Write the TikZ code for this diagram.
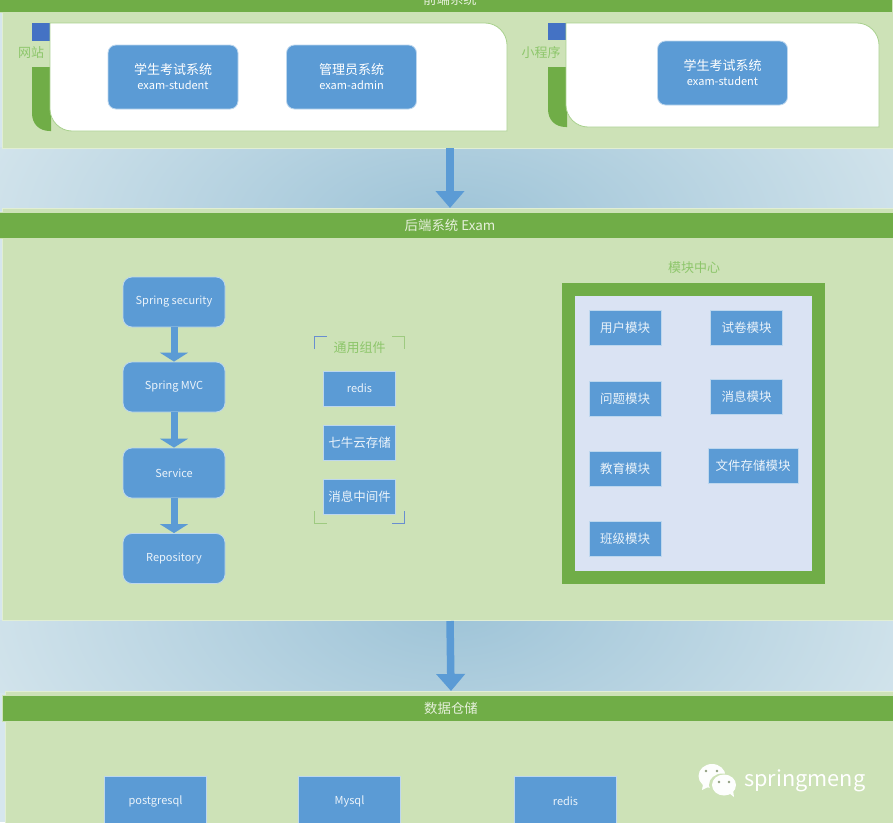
\documentclass[tikz,border=0pt]{standalone}
\usepackage{fontspec}
\setmainfont{Noto Sans CJK SC}
\usetikzlibrary{arrows.meta}
\definecolor{barg}{HTML}{70AD47}
\definecolor{panelg}{HTML}{CDE2B7}
\definecolor{lineg}{HTML}{A9D18E}
\definecolor{textg}{HTML}{8DC66B}
\definecolor{boxb}{HTML}{5B9BD5}
\definecolor{boxl}{HTML}{BDD7EE}
\definecolor{squareb}{HTML}{4472C4}
\definecolor{bandl}{HTML}{D6E6ED}
\definecolor{bandm}{HTML}{9DC3D7}
\definecolor{inner}{HTML}{DAE3F3}
\tikzset{
  x=1pt,y=-1pt,
  panel/.style={fill=panelg,draw=panelg!60!white,line width=.4pt,anchor=north west,inner sep=0pt,outer sep=0pt},
  bar/.style={fill=barg,draw=panelg,line width=.5pt,anchor=north west,inner sep=0pt,outer sep=0pt,minimum width=893pt},
  bartext/.style={text=panelg!50!white,font=\fontsize{13.4}{16}\selectfont,inner sep=0pt},
  appbox/.style={fill=boxb,draw=boxl,line width=.8pt,rounded corners=8pt,minimum width=130pt,minimum height=64pt,text=white,align=center,inner sep=0pt},
  flowbox/.style={fill=boxb,draw=boxl,line width=.8pt,rounded corners=9pt,minimum width=102pt,minimum height=50pt,text=white!88!boxb,font=\fontsize{11}{13}\selectfont,inner sep=0pt},
  modbox/.style={fill=boxb,draw=boxl,line width=.6pt,minimum width=72pt,minimum height=35pt,text=white!88!boxb,font=\fontsize{12.5}{15}\selectfont,inner sep=0pt},
  databox/.style={fill=boxb,draw=boxl,line width=.6pt,minimum width=102pt,minimum height=50pt,text=white!88!boxb,font=\fontsize{11}{13}\selectfont,inner sep=0pt},
  grouptitle/.style={text=textg,font=\fontsize{13}{16}\selectfont,inner sep=0pt},
  blockarrow/.style={draw=boxb,line width=7.5pt,-{Triangle[length=17pt,width=28pt]}},
  smallarrow/.style={draw=boxb,line width=7pt,-{Triangle[length=9pt,width=28pt]}},
  whitecard/.style={fill=white,draw=lineg,line width=.8pt},
  bracketb/.style={draw=squareb!80!white,line width=1.2pt},
  bracketg/.style={draw=lineg!80!barg,line width=1.2pt},
}
\newcommand{\applabel}[2]{{\fontsize{13}{16}\selectfont #1}\\[3pt]{\fontsize{11}{13}\selectfont #2}}
\begin{document}
\begin{tikzpicture}
\useasboundingbox (0,0) rectangle (893,822);
\clip (0,0) rectangle (893,822);
\fill[bandl] (0,0) rectangle (893,822);
% bands
\begin{scope}
\clip (0,147) rectangle (893,210);
\shade[inner color=bandm,outer color=bandl] (450,225) ellipse (520 and 260);
\end{scope}
\begin{scope}
\clip (0,620) rectangle (893,692);
\shade[inner color=bandm,outer color=bandl] (450,605) ellipse (520 and 280);
\end{scope}
% panels
\node[panel,minimum width=892pt,minimum height=136pt] (panelA) at (2.5,12) {};
\node[panel,minimum width=892pt,minimum height=412pt] (panelB) at (2.5,208.5) {};
\node[panel,minimum width=889pt,minimum height=133pt] (panelC) at (5.5,691.5) {};
% bars
\node[bar,minimum height=13pt] (barA) at (-1,-1) {};
\node[bar,minimum height=26pt,minimum width=896pt] (barB) at (-1,212) {};
\node[bar,minimum width=893pt,minimum height=25.5pt] (barC) at (2,695.5) {};
\node[bartext] (tA) at (450,-1) {前端系统};
\node[bartext] (tB) at (450,225.5) {后端系统 Exam};
\node[bartext] (tC) at (451,708.5) {数据仓储};
% website card
\fill[squareb] (32,23) rectangle (50,41);
\fill[barg] (32,67) -- (51,67) -- (51,131) -- (50,131) .. controls (39,131) and (32,124) .. (32,113) -- cycle;
\draw[whitecard] (50,23) -- (485,23) .. controls (497,23) and (507,33) .. (507,45) -- (507,131) -- (72,131) .. controls (60,131) and (50,121) .. (50,109) -- cycle;
\node[grouptitle] (lblA) at (31,53) {网站};
\node[appbox] (exstu) at (173,77) {\applabel{学生考试系统}{exam-student}};
\node[appbox] (exadm) at (351.5,77) {\applabel{管理员系统}{exam-admin}};
% miniprogram card
\fill[squareb] (548,23) rectangle (566,40);
\fill[barg] (548,67) -- (567,67) -- (567,127) -- (566,127) .. controls (555,127) and (548,120) .. (548,109) -- cycle;
\draw[whitecard] (566,23) -- (857,23) .. controls (869,23) and (879,33) .. (879,45) -- (879,127) -- (588,127) .. controls (576,127) and (566,117) .. (566,105) -- cycle;
\node[grouptitle] (lblB) at (541,53) {小程序};
\node[appbox] (mpstu) at (722.5,73) {\applabel{学生考试系统}{exam-student}};
% main arrows
\coordinate (a1s) at (450,148);
\coordinate (a1e) at (450,208);
\coordinate (a2s) at (450,621);
\coordinate (a2e) at (451,691);
\draw[blockarrow] (a1s) -- (a1e);
\draw[blockarrow] (a2s) -- (a2e);
% flow
\node[flowbox] (sec) at (174,302) {Spring security};
\node[flowbox] (mvc) at (174,387) {Spring MVC};
\node[flowbox] (srv) at (174,473) {Service};
\node[flowbox] (rep) at (174,558.5) {Repository};
\draw[smallarrow] (sec) -- (mvc);
\draw[smallarrow] (mvc) -- (srv);
\draw[smallarrow] (srv) -- (rep);
% common components
\draw[bracketb] (314.5,349) -- (314.5,336.5) -- (327,336.5);
\draw[bracketg] (392,336.5) -- (404.5,336.5) -- (404.5,349);
\draw[bracketg] (314.5,511) -- (314.5,523.5) -- (327,523.5);
\draw[bracketb] (392,523.5) -- (404.5,523.5) -- (404.5,511);
\node[grouptitle] (lblC) at (359.5,348) {通用组件};
\node[modbox,font=\fontsize{11}{13}\selectfont] (cr) at (359.5,388.5) {redis};
\node[modbox] (cq) at (359.5,443) {七牛云存储};
\node[modbox] (cm) at (359.5,497) {消息中间件};
% module center
\node[grouptitle] (lblD) at (694,268) {模块中心};
\node[fill=inner,draw=barg,line width=13pt,minimum width=250pt,minimum height=288pt,inner sep=0pt] (modc) at (693.5,433) {};
\node[modbox] (m1) at (625,327.5) {用户模块};
\node[modbox] (m2) at (746.5,327.5) {试卷模块};
\node[modbox] (m3) at (625,398.5) {问题模块};
\node[modbox] (m4) at (746.5,396.5) {消息模块};
\node[modbox] (m5) at (625,468.5) {教育模块};
\node[modbox,minimum width=90pt] (m6) at (753,465.5) {文件存储模块};
\node[modbox] (m7) at (625,538.5) {班级模块};
% data
\node[databox] (d1) at (155.5,801) {postgresql};
\node[databox] (d2) at (349.5,801) {Mysql};
\node[databox] (d3) at (565.5,801) {redis};
% watermark
\fill[white!97!panelg] (712,776) ellipse (13.5 and 12);
\fill[white!97!panelg] (703,784) -- (702,790) -- (710,786) -- cycle;
\fill[panelg] (722.5,785) ellipse (13.5 and 11.5);
\fill[white!97!panelg] (724,785) ellipse (12 and 10.5);
\fill[white!97!panelg] (729,793) -- (734,797) -- (733,790) -- cycle;
\fill[panelg!70!black] (706,771) circle (1.4) (717,771) circle (1.4) (719,782) circle (1.4) (729,782) circle (1.4);
\node[text=white,font=\fontsize{21.7}{25}\selectfont,inner sep=0pt,anchor=west] (wm) at (744,781) {springmeng};
\end{tikzpicture}
\end{document}
